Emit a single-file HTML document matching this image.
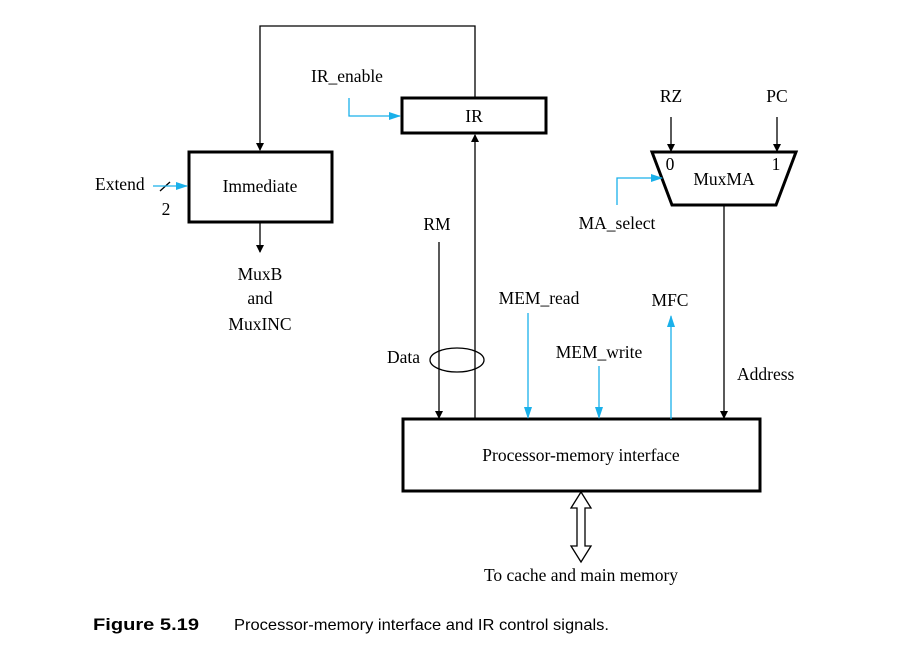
<!DOCTYPE html>
<html><head><style>body{margin:0;background:#fff}</style></head><body>
<svg width="906" height="655" xmlns="http://www.w3.org/2000/svg" font-family="Liberation Serif, serif" font-size="17.5">
<defs>
<marker id="a" markerWidth="8" markerHeight="10" refX="7" refY="4" orient="auto" markerUnits="userSpaceOnUse"><path d="M0,0 L8,4 L0,8 Z" fill="#000"/></marker>
<marker id="b" markerWidth="12" markerHeight="10" refX="11" refY="4" orient="auto" markerUnits="userSpaceOnUse"><path d="M0,0 L12,4 L0,8 Z" fill="#1ab0ea"/></marker>
</defs>
<g stroke="#000" stroke-width="1.3" fill="none">
<polyline points="475,98 475,26 260,26 260,150" marker-end="url(#a)"/>
<line x1="260" y1="222" x2="260" y2="252" marker-end="url(#a)"/>
<line x1="475" y1="419" x2="475" y2="135" marker-end="url(#a)"/>
<line x1="439" y1="242" x2="439" y2="418" marker-end="url(#a)"/>
<line x1="671" y1="117" x2="671" y2="151" marker-end="url(#a)"/>
<line x1="777" y1="117" x2="777" y2="151" marker-end="url(#a)"/>
<line x1="724" y1="206" x2="724" y2="418" marker-end="url(#a)"/>
<ellipse cx="457" cy="360" rx="27" ry="12"/>
<line x1="160" y1="191" x2="170" y2="182"/>
</g>
<g stroke="#000" stroke-width="3" fill="none">
<rect x="402" y="98" width="144" height="35"/>
<rect x="189" y="152" width="143" height="70"/>
<polygon points="652,152 796,152 776,205 672,205"/>
<rect x="403" y="419" width="357" height="72"/>
</g>
<g stroke="#1ab0ea" stroke-width="1.3" fill="none">
<polyline points="349,98 349,116 400,116" marker-end="url(#b)"/>
<line x1="153" y1="186" x2="187" y2="186" marker-end="url(#b)"/>
<polyline points="617,205 617,178 662,178" marker-end="url(#b)"/>
<line x1="528" y1="313" x2="528" y2="418" marker-end="url(#b)"/>
<line x1="599" y1="366" x2="599" y2="418" marker-end="url(#b)"/>
<line x1="671" y1="419" x2="671" y2="316" marker-end="url(#b)"/>
</g>
<polygon points="581,492 591,508 585,508 585,546 591,546 581,562 571,546 577,546 577,508 571,508" fill="#fff" stroke="#000" stroke-width="1.3"/>
<g fill="#000">
<text x="474" y="122" text-anchor="middle">IR</text>
<text x="260" y="192" text-anchor="middle">Immediate</text>
<text x="347" y="82" text-anchor="middle">IR_enable</text>
<text x="95" y="190">Extend</text>
<text x="166" y="215" text-anchor="middle">2</text>
<text x="260" y="280" text-anchor="middle">MuxB</text>
<text x="260" y="304" text-anchor="middle">and</text>
<text x="260" y="330" text-anchor="middle">MuxINC</text>
<text x="437" y="230" text-anchor="middle">RM</text>
<text x="671" y="102" text-anchor="middle">RZ</text>
<text x="777" y="102" text-anchor="middle">PC</text>
<text x="670" y="170" text-anchor="middle">0</text>
<text x="776" y="170" text-anchor="middle">1</text>
<text x="724" y="185" text-anchor="middle">MuxMA</text>
<text x="617" y="229" text-anchor="middle">MA_select</text>
<text x="539" y="304" text-anchor="middle">MEM_read</text>
<text x="670" y="306" text-anchor="middle">MFC</text>
<text x="599" y="358" text-anchor="middle">MEM_write</text>
<text x="387" y="363">Data</text>
<text x="737" y="380">Address</text>
<text x="581" y="461" text-anchor="middle">Processor-memory interface</text>
<text x="581" y="581" text-anchor="middle">To cache and main memory</text>
</g>
<text x="93" y="630" font-family="Liberation Sans, sans-serif" font-weight="bold" font-size="17" textLength="106" lengthAdjust="spacingAndGlyphs">Figure 5.19</text>
<text x="234" y="630" font-family="Liberation Sans, sans-serif" font-size="16" textLength="375" lengthAdjust="spacingAndGlyphs">Processor-memory interface and IR control signals.</text>
</svg>
</body></html>
